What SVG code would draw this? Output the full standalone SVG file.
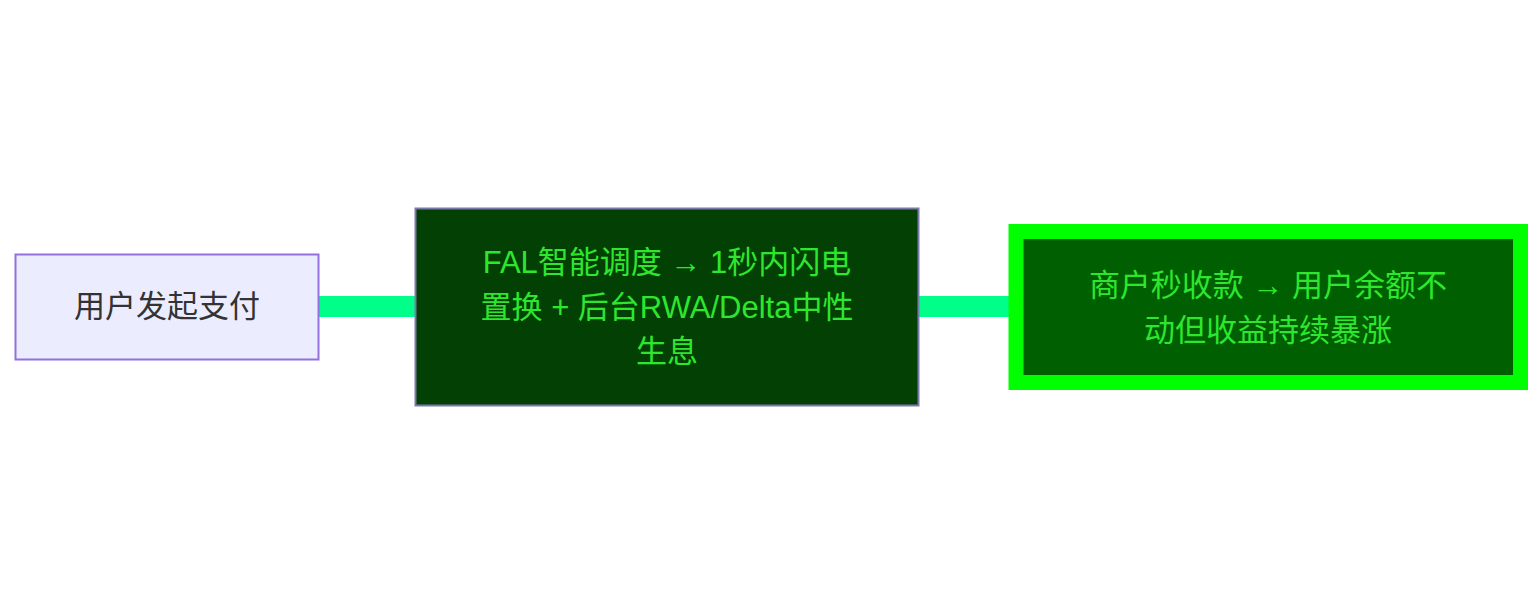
<svg xmlns="http://www.w3.org/2000/svg" width="1536" height="614" viewBox="0 0 1536 614">
<style>
.t{font-family:"Liberation Sans","Noto Sans CJK SC",sans-serif;font-size:31px;text-anchor:middle;dominant-baseline:central}
.edge{stroke:#00ff88;stroke-width:21;fill:none}
</style>
<rect width="1536" height="614" fill="#ffffff"/>
<g id="connectors">
<line class="edge" x1="318" y1="306.5" x2="416" y2="306.5"/>
<line class="edge" x1="918" y1="306.5" x2="1010" y2="306.5"/>
</g>
<g id="node-A">
<rect x="15.5" y="254.5" width="303" height="105" fill="#ececff" stroke="#9370db" stroke-width="2"/>
<text class="t" x="167" y="306" fill="#333333">用户发起支付</text>
</g>
<g id="node-B">
<rect x="415.5" y="208.5" width="503" height="197" fill="#034003" stroke="#7c78ac" stroke-width="2"/>
<text class="t" fill="#2ee62e"><tspan x="667" y="262">FAL智能调度 → 1秒内闪电</tspan><tspan x="667" y="307">置换 + 后台RWA/Delta中性</tspan><tspan x="667" y="351">生息</tspan></text>
</g>
<g id="node-C">
<rect x="1016" y="231.5" width="504.5" height="151" fill="#005f00" stroke="#00ff00" stroke-width="15"/>
<text class="t" fill="#2ee62e"><tspan x="1268" y="285">商户秒收款 → 用户余额不</tspan><tspan x="1268" y="330">动但收益持续暴涨</tspan></text>
</g>
</svg>
